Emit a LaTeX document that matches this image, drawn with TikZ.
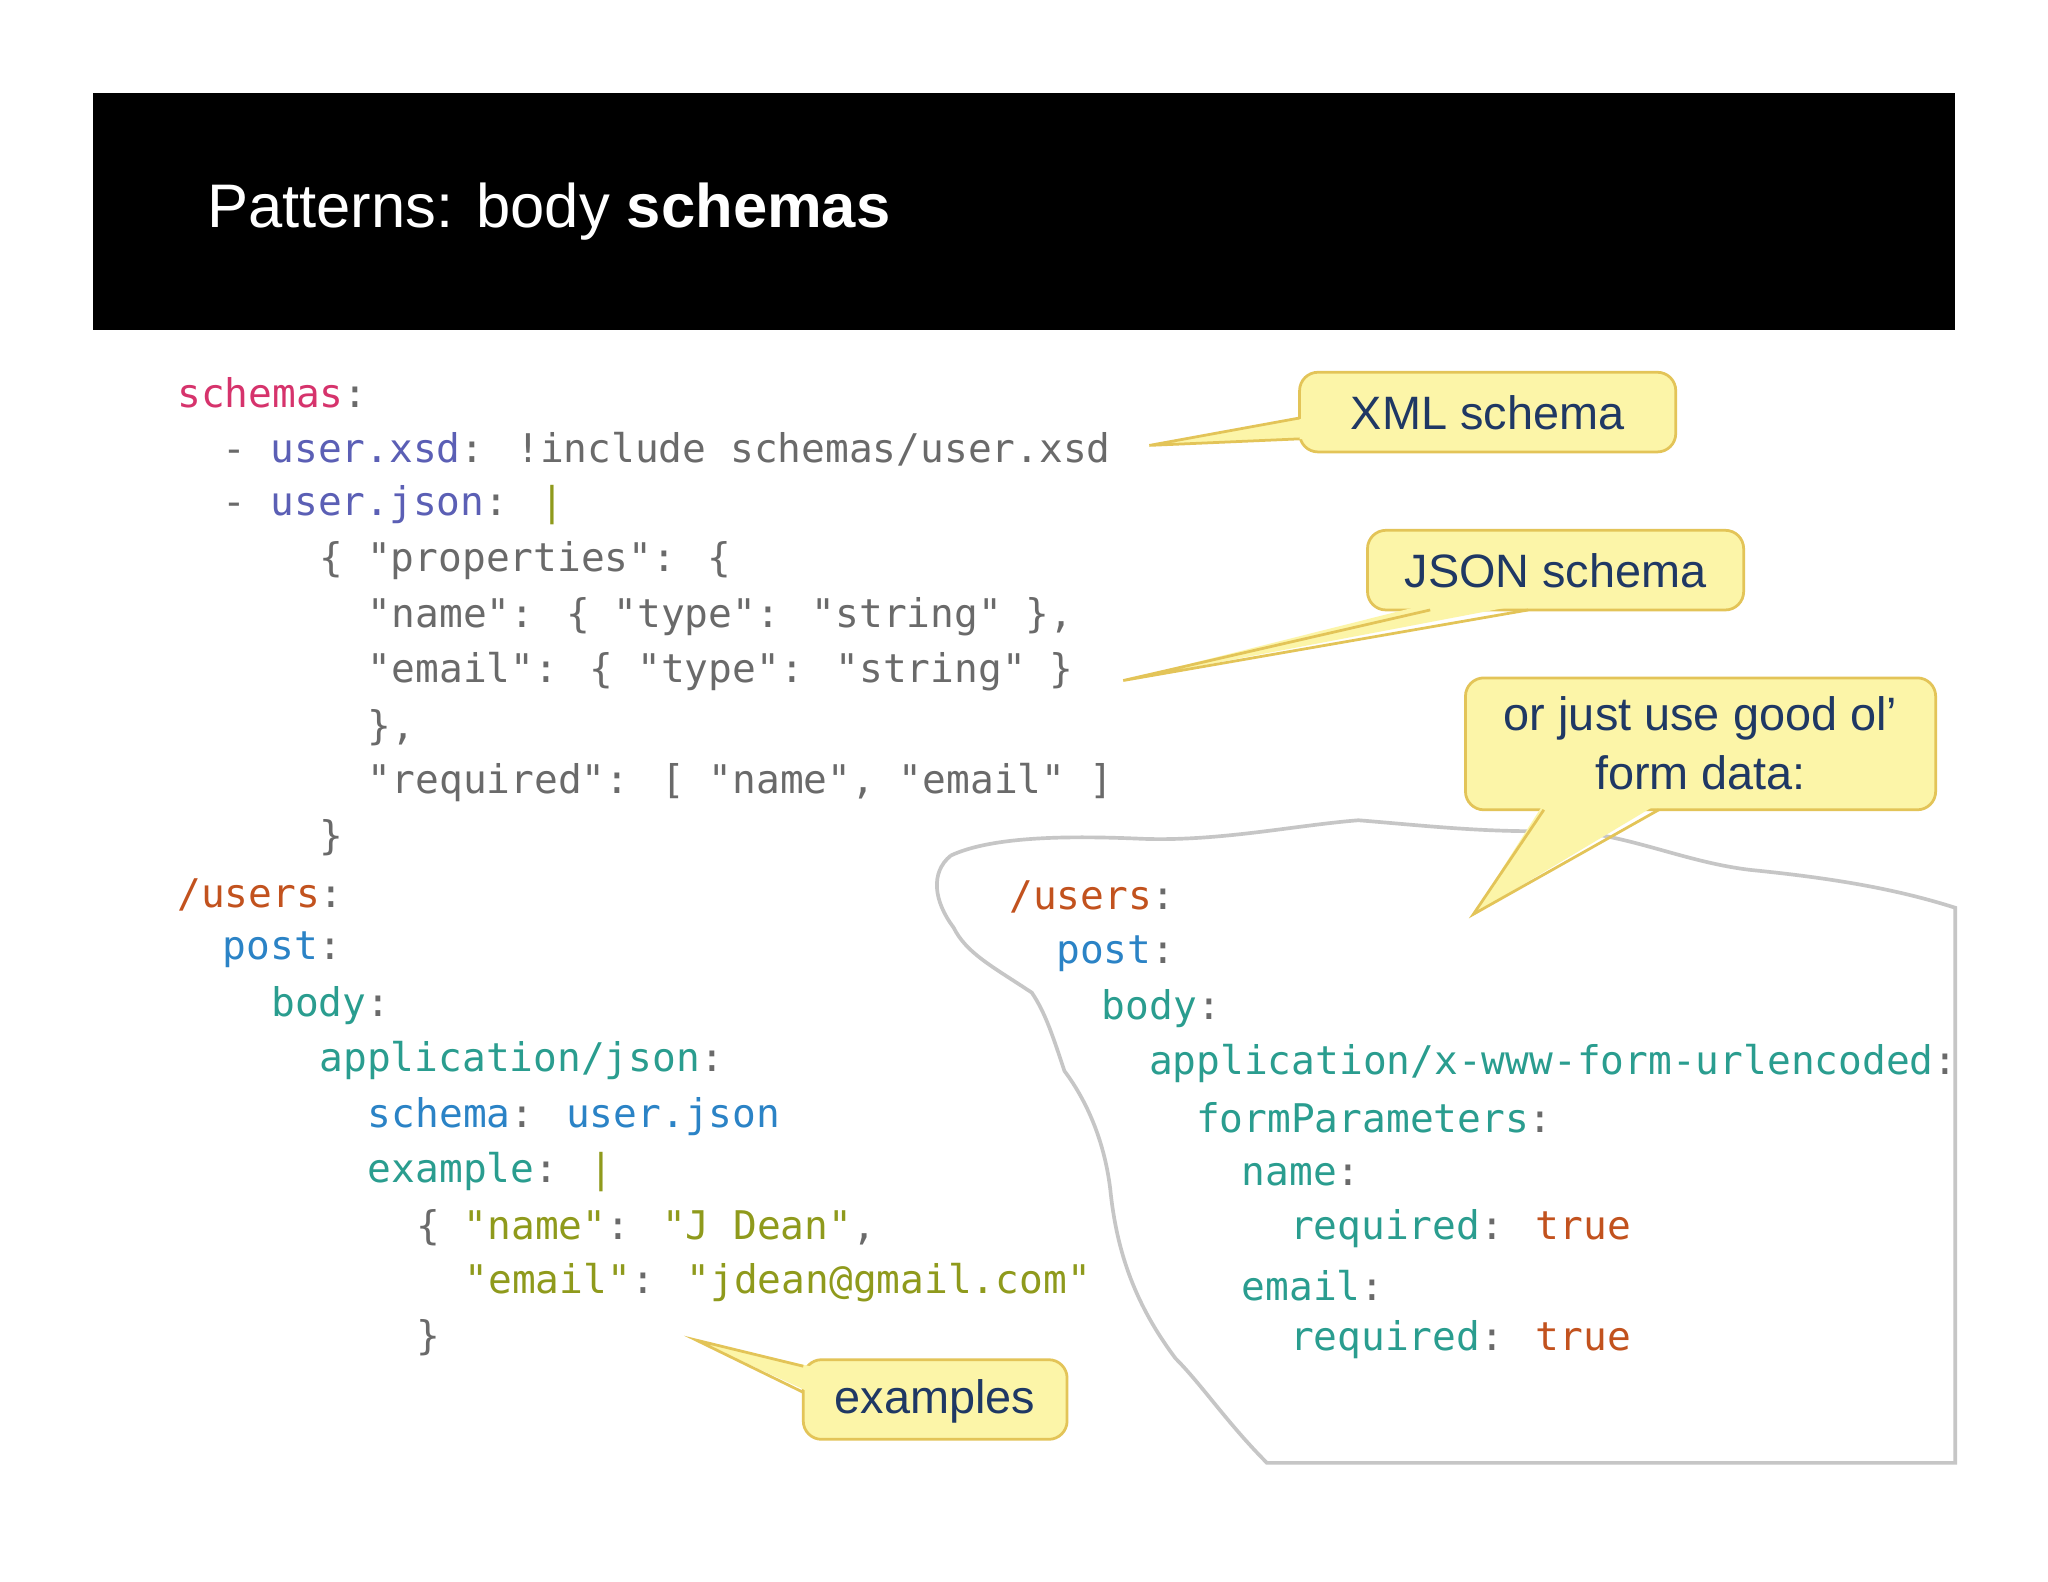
\documentclass[tikz,border=0pt]{standalone}
\usepackage{fontspec}
\setmainfont{Liberation Sans}
\newfontfamily\codefont{DejaVu Sans Mono}
\definecolor{pk}{HTML}{D6336C}
\definecolor{pu}{HTML}{5B5FB5}
\definecolor{gy}{HTML}{6A6A6A}
\definecolor{ol}{HTML}{8F9A1C}
\definecolor{org}{HTML}{C2521E}
\definecolor{bl}{HTML}{2B83C6}
\definecolor{tl}{HTML}{2A9D8F}
\definecolor{cfill}{HTML}{FCF5A8}
\definecolor{cline}{HTML}{E3C458}
\definecolor{navy}{HTML}{1F3864}
\newcommand{\cc}[2]{\textcolor{#1}{#2}}
\begin{document}
\begin{tikzpicture}[x=0.01cm,y=-0.01cm,
  code/.style={anchor=west,inner sep=0pt,font=\codefont\fontsize{8.6}{10}\selectfont,text=gy},
  cbox/.style={draw=cline,fill=cfill,rounded corners=4pt,line width=0.6pt},
  ctext/.style={font=\fontsize{10.2}{13}\selectfont,text=navy,align=center}]
\useasboundingbox (0,0) rectangle (1568,1211);
\fill[white] (0,0) rectangle (1568,1211);
\fill[black] (71,71) rectangle (1497,253);
\node[anchor=west,inner sep=0pt,text=white,font=\fontsize{13.4}{16}\selectfont] (title) at (158,162) {Patterns: body \textbf{schemas}};
% torn panel
\draw[gray!45,line width=0.8pt,fill=white] (728,655) .. controls (760,640) and (820,640) .. (870,642)
 .. controls (930,645) and (990,632) .. (1040,628) .. controls (1090,632) and (1140,638) .. (1200,636)
 .. controls (1250,640) and (1290,660) .. (1340,666) .. controls (1400,672) and (1450,680) .. (1497,695)
 -- (1497,1120) -- (970,1120) .. controls (940,1090) and (920,1060) .. (900,1040)
 .. controls (870,1000) and (855,960) .. (850,910) .. controls (845,870) and (830,840) .. (815,820)
 .. controls (805,790) and (800,775) .. (790,760) .. controls (760,740) and (740,730) .. (730,710)
 .. controls (715,690) and (712,668) .. (728,655);
% left code
\node[code] (l1) at (135,301) {\cc{pk}{schemas}:};
\node[code] (l2) at (170,344) {- \cc{pu}{user.xsd}: !include schemas/user.xsd};
\node[code] (l3) at (170,387) {- \cc{pu}{user.json}: \cc{ol}{|}};
\node[code] (l4) at (244,429) {\{ "properties": \{};
\node[code] (l5) at (281,472) {"name": \{ "type": "string" \},};
\node[code] (l6) at (281,514) {"email": \{ "type": "string" \}};
\node[code] (l7) at (281,557) {\},};
\node[code] (l8) at (281,599) {"required": [ "name", "email" ]};
\node[code] (l9) at (244,641) {\}};
\node[code] (l10) at (135,685) {\cc{org}{/users}:};
\node[code] (l11) at (170,727) {\cc{bl}{post}:};
\node[code] (l12) at (207,770) {\cc{tl}{body}:};
\node[code] (l13) at (244,812) {\cc{tl}{application/json}:};
\node[code] (l14) at (281,855) {\cc{bl}{schema}: \cc{bl}{user.json}};
\node[code] (l15) at (281,897) {\cc{tl}{example}: \cc{ol}{|}};
\node[code] (l16) at (318,940) {\{ \cc{ol}{"name"}: \cc{ol}{"J Dean"},};
\node[code] (l17) at (355,982) {\cc{ol}{"email"}: \cc{ol}{"jdean@gmail.com"}};
\node[code] (l18) at (318,1024) {\}};
% right code
\node[code] (r1) at (772,687) {\cc{org}{/users}:};
\node[code] (r2) at (808,730) {\cc{bl}{post}:};
\node[code] (r3) at (843,772) {\cc{tl}{body}:};
\node[code] (r4) at (879,814) {\cc{tl}{application/x-www-form-urlencoded}:};
\node[code] (r5) at (915,856) {\cc{tl}{formParameters}:};
\node[code] (r6) at (950,899) {\cc{tl}{name}:};
\node[code] (r7) at (987,941) {\cc{tl}{required}: \cc{org}{true}};
\node[code] (r8) at (950,984) {\cc{tl}{email}:};
\node[code] (r9) at (987,1026) {\cc{tl}{required}: \cc{org}{true}};
% callouts
\coordinate (t1) at (880,341);
\coordinate (t2) at (860,521);
\coordinate (t3) at (1128,700);
\coordinate (t4) at (533,1026);
\draw[cbox] (995,285) rectangle (1283,346);
\fill[cfill] (t1) -- (1000,320) -- (1000,336) -- cycle;
\draw[cline,line width=0.6pt] (995,320) -- (t1) -- (995,336);
\node[ctext] (c1) at (1139,316) {XML schema};
\draw[cbox] (1047,406) rectangle (1335,467);
\fill[cfill] (t2) -- (1095,462) -- (1170,462) -- cycle;
\draw[cline,line width=0.6pt] (1095,467) -- (t2) -- (1170,467);
\node[ctext] (c2) at (1191,437) {JSON schema};
\draw[cbox] (1122,519) rectangle (1482,620);
\fill[cfill] (t3) -- (1182,615) -- (1270,615) -- cycle;
\draw[cline,line width=0.6pt] (1182,620) -- (t3) -- (1270,620);
\node[ctext] (c3) at (1302,569) {or just use good ol{\char"27}\\form data:};
\draw[cbox] (615,1041) rectangle (817,1102);
\fill[cfill] (t4) -- (620,1046) -- (620,1066) -- cycle;
\draw[cline,line width=0.6pt] (615,1046) -- (t4) -- (615,1066);
\node[ctext] (c4) at (716,1073) {examples};
\end{tikzpicture}
\end{document}
